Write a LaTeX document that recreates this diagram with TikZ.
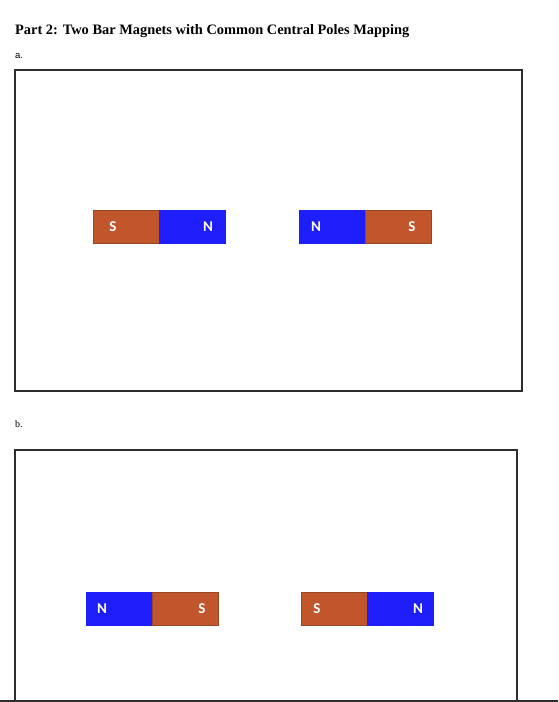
\documentclass[tikz,border=0pt]{standalone}
\usepackage{fontspec}
\setmainfont{Liberation Serif}
\newfontfamily\labelfont{Liberation Sans}
\newfontfamily\polefont{Carlito}
\usetikzlibrary{positioning}

\tikzset{
  frame/.style={line width=1.1pt, draw=frame_grey},
  half/.style={minimum width=66pt, minimum height=33pt, inner sep=0pt, outer sep=0pt, line width=0.5pt},
  south/.style={half, fill=pole_brown, draw=pole_brown!80!black},
  north/.style={half, fill=pole_blue, draw=pole_blue},
  pole/.style={text=white, font=\polefont\bfseries\fontsize{15}{15}\selectfont, inner sep=0pt}
}

\begin{document}
\begin{tikzpicture}[x=1pt, y=-1pt]
\definecolor{pole_brown}{RGB}{193,86,44}
\definecolor{pole_blue}{RGB}{30,30,250}
\definecolor{frame_grey}{RGB}{45,45,45}
\useasboundingbox (0,0) rectangle (558,702);
% title and part labels
\node[anchor=base west, inner sep=0pt, font=\bfseries\fontsize{14.4}{16}\selectfont] (title) at (15,34) {Part 2: Two Bar Magnets with Common Central Poles Mapping};
\node[anchor=base west, inner sep=0pt, font=\labelfont\fontsize{9.5}{10}\selectfont] (parta) at (15,58) {a.};
\node[anchor=base west, inner sep=0pt, font=\fontsize{10}{11}\selectfont] (partb) at (15,427) {b.};
% frames
\draw[frame] (15,70) rectangle (522,391);
\draw[frame] (15,701) -- (15,450) -- (517,450) -- (517,701);
\draw[frame] (0,701) -- (558,701);
% a: S-N  N-S
\node[south, anchor=north west] (a_s1) at (93,210) {};
\node[north, right=0pt of a_s1] (a_n1) {};
\node[north, anchor=north west] (a_n2) at (299,210) {};
\node[south, right=0pt of a_n2] (a_s2) {};
\node[pole] (la_s1) at ([xshift=20pt]a_s1.west) {S};
\node[pole] (la_n1) at ([xshift=-17pt]a_n1.east) {N};
\node[pole] (la_n2) at ([xshift=17pt]a_n2.west) {N};
\node[pole] (la_s2) at ([xshift=-19pt]a_s2.east) {S};
% b: N-S  S-N
\node[north, anchor=north west] (b_n1) at (86,592) {};
\node[south, right=0pt of b_n1] (b_s1) {};
\node[south, anchor=north west] (b_s2) at (301,592) {};
\node[north, right=0pt of b_s2] (b_n2) {};
\node[pole] (lb_n1) at ([xshift=16pt]b_n1.west) {N};
\node[pole] (lb_s1) at ([xshift=-16pt]b_s1.east) {S};
\node[pole] (lb_s2) at ([xshift=16pt]b_s2.west) {S};
\node[pole] (lb_n2) at ([xshift=-15pt]b_n2.east) {N};
\end{tikzpicture}
\end{document}
